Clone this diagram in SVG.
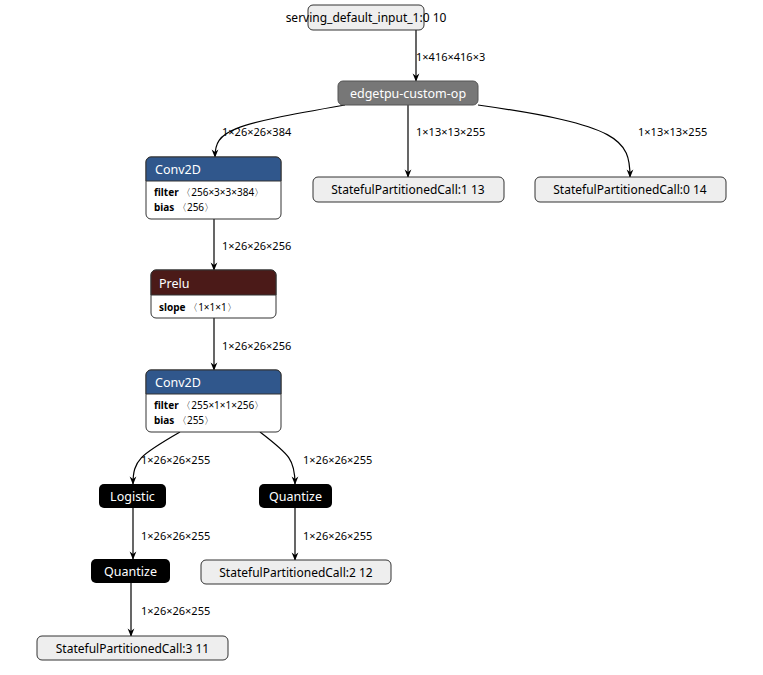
<svg xmlns="http://www.w3.org/2000/svg" width="763" height="675" viewBox="0 0 763 675">
<defs>
<style>
text{font-family:"Noto Sans","DejaVu Sans",sans-serif;font-size:12px}
.io{fill:#eee;stroke:#333;stroke-width:1}
.el{font-size:11px;fill:#000}
.e{fill:none;stroke:#000;stroke-width:1.2;marker-end:url(#a)}
.wt{fill:#fff;font-size:12.5px}
.at{font-size:10px}
.b{font-weight:bold}
</style>
<marker id="a" viewBox="0 0 10 10" refX="9" refY="5" markerWidth="7" markerHeight="7" orient="auto"><path d="M0,1 L10,5 L0,9 L3,5z" fill="#000"/></marker>
</defs>
<rect width="763" height="675" fill="#fff"/>
<g id="connectors">
<path class="e" d="M416,30 V81"/><text class="el" x="416" y="61">1×416×416×3</text>
<path class="e" d="M345,105 C230,125 215,130 215,157"/><text class="el" x="222" y="136">1×26×26×384</text>
<path class="e" d="M408,105 V177"/><text class="el" x="416" y="136">1×13×13×255</text>
<path class="e" d="M478,105 C620,125 630,140 630,177"/><text class="el" x="638" y="136">1×13×13×255</text>
<path class="e" d="M214,219 V270"/><text class="el" x="222" y="250">1×26×26×256</text>
<path class="e" d="M214,318 V370"/><text class="el" x="222" y="350">1×26×26×256</text>
<path class="e" d="M180,432 C140,455 133,460 133,484"/><text class="el" x="141" y="464">1×26×26×255</text>
<path class="e" d="M260,432 C290,455 295,460 295,484"/><text class="el" x="303" y="464">1×26×26×255</text>
<path class="e" d="M133,508 V559"/><text class="el" x="141" y="540">1×26×26×255</text>
<path class="e" d="M295,508 V560"/><text class="el" x="303" y="540">1×26×26×255</text>
<path class="e" d="M131,583 V636"/><text class="el" x="141" y="615">1×26×26×255</text>
</g>
<g id="input"><rect class="io" x="308" y="5" width="116" height="25" rx="5"/><text x="366" y="22" text-anchor="middle">serving_default_input_1:0 10</text></g>
<g id="edgetpu"><rect x="338" y="81" width="140" height="24" rx="5" fill="#777" stroke="#555"/><text class="wt" x="408" y="98" text-anchor="middle">edgetpu-custom-op</text></g>
<g id="spc1"><rect class="io" x="313" y="177" width="191" height="25" rx="5"/><text x="408" y="194" text-anchor="middle">StatefulPartitionedCall:1 13</text></g>
<g id="spc0"><rect class="io" x="535" y="177" width="191" height="25" rx="5"/><text x="630" y="194" text-anchor="middle">StatefulPartitionedCall:0 14</text></g>
<g id="conv1"><rect x="146" y="157" width="135" height="62" rx="5" fill="#fff" stroke="#333"/><path d="M146,181 V162 a5,5 0 0 1 5,-5 H276 a5,5 0 0 1 5,5 V181z" fill="#30578c" stroke="#333"/><text class="wt" x="155" y="174">Conv2D</text><text class="at" x="154" y="196"><tspan class="b">filter</tspan> 〈256×3×3×384〉</text><text class="at" x="154" y="211"><tspan class="b">bias</tspan> 〈256〉</text></g>
<g id="prelu"><rect x="151" y="270" width="125" height="48" rx="5" fill="#fff" stroke="#333"/><path d="M151,295 V275 a5,5 0 0 1 5,-5 H271 a5,5 0 0 1 5,5 V295z" fill="#4b1a18" stroke="#333"/><text class="wt" x="159" y="288">Prelu</text><text class="at" x="159" y="311"><tspan class="b">slope</tspan> 〈1×1×1〉</text></g>
<g id="conv2"><rect x="146" y="370" width="135" height="62" rx="5" fill="#fff" stroke="#333"/><path d="M146,394 V375 a5,5 0 0 1 5,-5 H276 a5,5 0 0 1 5,5 V394z" fill="#30578c" stroke="#333"/><text class="wt" x="155" y="387">Conv2D</text><text class="at" x="154" y="409"><tspan class="b">filter</tspan> 〈255×1×1×256〉</text><text class="at" x="154" y="424"><tspan class="b">bias</tspan> 〈255〉</text></g>
<g id="logistic"><rect x="99" y="484" width="67" height="24" rx="5" fill="#000"/><text class="wt" x="132.5" y="501" text-anchor="middle">Logistic</text></g>
<g id="quant2"><rect x="259" y="484" width="73" height="24" rx="5" fill="#000"/><text class="wt" x="295.5" y="501" text-anchor="middle">Quantize</text></g>
<g id="quant1"><rect x="91" y="559" width="79" height="24" rx="5" fill="#000"/><text class="wt" x="130.5" y="576" text-anchor="middle">Quantize</text></g>
<g id="spc2"><rect class="io" x="201" y="560" width="190" height="24" rx="5"/><text x="296" y="577" text-anchor="middle">StatefulPartitionedCall:2 12</text></g>
<g id="spc3"><rect class="io" x="37" y="636" width="191" height="24" rx="5"/><text x="132.5" y="653" text-anchor="middle">StatefulPartitionedCall:3 11</text></g>
</svg>
